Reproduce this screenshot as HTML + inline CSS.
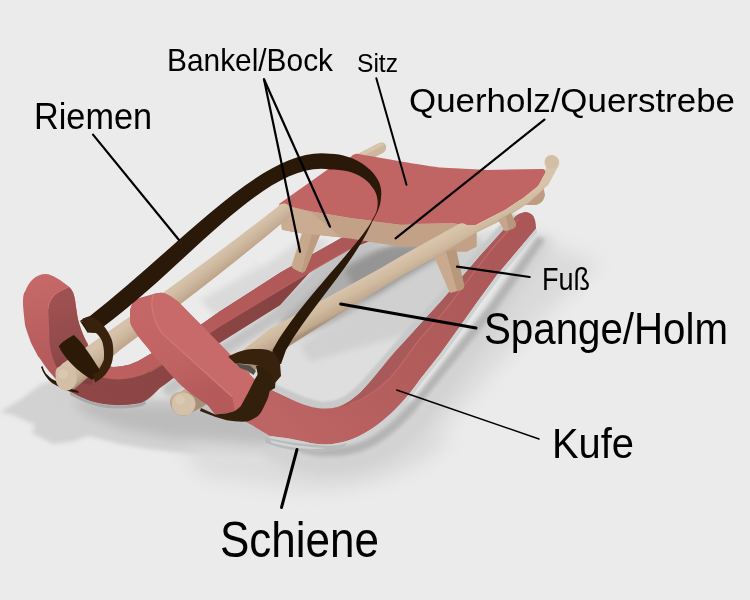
<!DOCTYPE html>
<html><head><meta charset="utf-8">
<style>
html,body{margin:0;padding:0;width:750px;height:600px;overflow:hidden;background:#ebebeb}
svg{display:block}
text{font-family:"Liberation Sans",sans-serif;fill:#000}
</style></head><body>
<svg width="750" height="600" viewBox="0 0 750 600">
<rect width="750" height="600" fill="#ebebeb"/>
<g id="sled"><defs>
<filter id="b1" x="-20%" y="-20%" width="140%" height="140%"><feGaussianBlur stdDeviation="1"/></filter>
<filter id="b2" x="-20%" y="-20%" width="140%" height="140%"><feGaussianBlur stdDeviation="2"/></filter>
<filter id="b3" x="-30%" y="-30%" width="160%" height="160%"><feGaussianBlur stdDeviation="3"/></filter>
<filter id="b6" x="-30%" y="-30%" width="160%" height="160%"><feGaussianBlur stdDeviation="6"/></filter>
<filter id="b10" x="-40%" y="-40%" width="180%" height="180%"><feGaussianBlur stdDeviation="10"/></filter>
<linearGradient id="gRodL" gradientUnits="userSpaceOnUse" x1="223" y1="250" x2="234.5" y2="265">
<stop offset="0" stop-color="#d6c2aa"/><stop offset="0.4" stop-color="#cdb89f"/><stop offset="0.85" stop-color="#bea68c"/><stop offset="1" stop-color="#a89078"/></linearGradient>
<linearGradient id="gRodR" gradientUnits="userSpaceOnUse" x1="330" y1="296" x2="340" y2="315">
<stop offset="0" stop-color="#d8c4ab"/><stop offset="0.4" stop-color="#d0baa0"/><stop offset="0.85" stop-color="#c0a88e"/><stop offset="1" stop-color="#a89078"/></linearGradient>
<linearGradient id="gRunR" gradientUnits="userSpaceOnUse" x1="530" y1="220" x2="300" y2="440">
<stop offset="0" stop-color="#ab5757"/><stop offset="0.6" stop-color="#b25c5c"/><stop offset="1" stop-color="#bd6464"/></linearGradient>
<linearGradient id="gCurlL" gradientUnits="userSpaceOnUse" x1="40" y1="280" x2="60" y2="380">
<stop offset="0" stop-color="#c66868"/><stop offset="1" stop-color="#b05858"/></linearGradient>
<linearGradient id="gCurlLR" gradientUnits="userSpaceOnUse" x1="60" y1="290" x2="80" y2="385">
<stop offset="0" stop-color="#a05252"/><stop offset="0.6" stop-color="#924a4a"/><stop offset="1" stop-color="#804040"/></linearGradient>
<linearGradient id="gRunLside" gradientUnits="userSpaceOnUse" x1="100" y1="400" x2="400" y2="220">
<stop offset="0" stop-color="#8e4646"/><stop offset="0.4" stop-color="#8a4444"/><stop offset="1" stop-color="#804040"/></linearGradient>
<linearGradient id="gRunLtop" gradientUnits="userSpaceOnUse" x1="100" y1="370" x2="400" y2="210">
<stop offset="0" stop-color="#be6060"/><stop offset="0.4" stop-color="#b45a5a"/><stop offset="1" stop-color="#aa5757"/></linearGradient>
<linearGradient id="gCurlRfront" gradientUnits="userSpaceOnUse" x1="140" y1="300" x2="200" y2="400">
<stop offset="0" stop-color="#c66767"/><stop offset="0.6" stop-color="#c06363"/><stop offset="1" stop-color="#b45a5a"/></linearGradient>
</defs>
<g id="shadows">
<!-- shadow under front curls -->
<path d="M0,412 L20,400 L40,385 L60,378 L100,390 L200,395 L300,400 L410,400 L430,420 C400,440 360,456 310,457 L250,457.5 L200,455 L149,449 L120,444 L88,436 L75,441 L53,444 L32,433 L35,425 L13,415 Z" fill="#d2d2d2" filter="url(#b2)"/>
<path d="M70,398 L120,405 L200,404 L270,425 L320,445 L260,447 L180,440 L120,428 L85,414 Z" fill="#bcbcbc" filter="url(#b6)"/>
<!-- ground inside runners (light) -->
<path d="M150,398 L250,330 L320,272 L420,246 L522,222 L470,300 L420,360 L385,395 L335,412 L290,402 L230,400 Z" fill="#dedede" filter="url(#b2)"/>
<path d="M205,308 L256,258 L268,272 L228,306 Z" fill="#e8e8e8" filter="url(#b1)" opacity="0.8"/>
<!-- under seat / above right rod: darker -->
<path d="M280,305 L320,270 L410,238 L480,245 L505,256 L440,282 L330,325 L280,345 Z" fill="#adadad" filter="url(#b3)"/>
<path d="M335,250 L420,245 L470,255 L430,285 L360,300 Z" fill="#959595" filter="url(#b3)"/>
<!-- between left runner and left rod, upper area -->
<path d="M200,300 L270,262 L300,240 L330,240 L300,275 L220,320 Z" fill="#dadada" filter="url(#b3)"/>
<!-- shadow below right rod -->
<path d="M300,345 L400,280 L475,236 L505,258 L450,300 L415,332 L350,350 L310,362 Z" fill="#d0d0d0" filter="url(#b3)"/>
<!-- shadow below left runner -->
<path d="M160,388 L220,342.7 L280,305.3 L320,261 L400,222 L410,232 L330,275 L285,318 L225,356 L170,398 Z" fill="#c2c2c2" filter="url(#b3)"/>
<!-- band along inside of right runner -->
<path d="M290,396 C305,402 322,406 338,404 L352,396 L372,378 L389,357 L440,300 L514,214 L522,220 L450,304 L398,364 C385,380 370,398 350,408 C335,415 315,414 290,406 Z" fill="#c4c4c4" filter="url(#b2)"/>
<!-- shadow beyond right runner -->
<path d="M180,445 L300,452 C350,452 390,440 420,420 L450,440 C420,470 360,490 300,490 L200,475 Z" fill="#dcdcdc" filter="url(#b10)"/>
<path d="M300,450 C340,455 380,440 410,415 L480,320 L540,236 L560,250 L600,262 L520,340 L450,420 C410,465 360,485 310,478 Z" fill="#dadada" filter="url(#b10)"/>
<path d="M270,442 C290,452 315,456 334,455 C365,452 390,438 410,420 L490,310 L540,234 L552,242 L505,318 L425,428 C398,460 365,474 334,474 C300,474 280,466 262,455 Z" fill="#d2d2d2" filter="url(#b6)"/>
<path d="M300,446 C320,450 345,448 365,440 C385,430 400,415 415,398 L488,306 L538,236 L545,240 L495,312 L420,405 C400,430 380,445 360,452 C340,458 315,458 300,452 Z" fill="#b4b4b4" filter="url(#b2)"/>
</g>
<g id="leftrunner">
<path d="M87,342.3 C92,356 102,366 113,367 C125,367 135,363 140,360 L199,326 L220,311.3 L280,272.7 L320,250 L400,205 L410,225 L320,261 L280,305.3 L220,342.7 C200,356 175,378 160,388 C150,398 145,402 140,403.3 C130,405 120,405.5 113.3,405 C105,404.5 98,403 91.7,401.7 C85,399 76,395 70,391.7 L60,382 Z" fill="url(#gRunLside)"/>
<path d="M87,342.3 C92,356 102,366 113,367 C125,367 135,363 140,360 L199,326 L220,311.3 L280,272.7 L320,250 L400,205 L404,218 L320,266 L280,290 L220,326 L199,340 C180,352 160,366 145,374 C130,380 115,381 100,377 Z" fill="url(#gRunLtop)"/>
<path d="M150,372 C170,360 185,350 199,340 L220,326 L280,290 L320,266 L404,218" fill="none" stroke="#ba6060" stroke-width="1.2" opacity="0.8"/>
<path d="M70,392 C85,400 100,405 113,405.5 C125,406 138,405 145,401 L146,404 C140,408 125,409 113,408.5 C98,408 85,403 70,395 Z" fill="#a8a8a8"/>
</g>
<g id="leftcurl">
<path d="M45.7,274 C52,274 62,281 68.3,286.3 C72,289 74.5,293 75.7,305 L77.7,318.3 C79,326 82,334 87,342.3 L92,358 L70,391.7 C60,385 52,375 46.7,368.3 C42,362 40,358 38.3,356.7 C34,348 31,344 30,340 C27,332 25,325 25,325 C24,315 23,308 23,302.3 C23,296 24,292 25,291.7 C27,286 30,282 32.3,279.7 C36,276 41,274 45.7,274 Z" fill="url(#gCurlL)"/>
<path d="M68.3,287 C62,290 56,292 53.7,295.7 C50,300 48,305 48.3,309 L49.7,345 C52,360 58,372 66,380 L92,385 L92,358 C88,345 82,334 77.7,318.3 L75.7,305 C74.5,293 72,289 68.3,287 Z" fill="url(#gCurlLR)"/>
<path d="M68.3,287 C62,290 56,292 53.7,295.7 C50,300 48,305 48.3,309" fill="none" stroke="#cf7676" stroke-width="1.2" opacity="0.8"/>
</g>
<g id="leftrodback">
<path d="M352,157 L378,143.5 C383,141 387,144 386,149 C385,152 383,153 381,154 L358,166 Z" fill="#cdb89f"/>
<path d="M352,157 L378,143.5 C381,142.5 383,143 384,145 L355,160 Z" fill="#d8c5ae"/>
</g>
<g id="seat">
<!-- back-left leg -->
<path d="M302,233 L320,235 L306,269 C305,272 303,273 300,272 L294,269 C292,268 291,266 292,264 Z" fill="#c8a88c"/>
<path d="M312,234 L320,235 L306,269 C305,272 303,273 301,272 Z" fill="#bd9d81"/>
<!-- back-right leg -->
<!-- back block -->
<path d="M519,196 L541,176 L545,195 C544,201 540,204 536,205 L527,205 C522,204 519,201 519,196 Z" fill="#bd9c82"/>
<!-- seat wooden frame -->
<path d="M279,204 L282,229.7 L299,233 L350,238.5 L400,246.7 L421.7,246.7 L445,251.7 L466.7,251.7 L476.7,246.7 L476.7,230 L466.7,225.8 L453.3,223.3 L400,224.2 L350,218 L310,211.3 Z" fill="#c2a186"/>
<path d="M279,204 L282,229.7 L299,233 L340,237 C330,228 320,220 310,211.3 Z" fill="#c9ac92"/>
<!-- red seat top -->
<path d="M279,204 L327,170 L351,156.7 C353,154 356,153.5 357,153.7 L400,161.3 C420,165 440,167.6 440,167.6 L488,170 L542.4,168.9 C545,169 546,171 545.6,172.4 L538,186 L523,198 L505,210 L475.2,225.2 L466.7,225.8 L453.3,223.3 L400,224.2 L350,218 L310,211.3 Z" fill="#c06464"/>
</g>
<g id="leftrodfront">
<path d="M56,370 C58,366 60,367 62,364 C120,324 210,260 280,205 C284,202 289,204 291,209 C292,213 290,216 288,218 C250,251 185,301 120,350 L72,391 C64,394 53,382 56,370 Z" fill="url(#gRodL)"/>
</g>
<g id="rightrod">
<path d="M170,400 C172,394 176,392 180,392 L230,360 L270,328.7 L330,296 L380,268.5 L400,256.7 L458.3,224.2 C462,222 466,224 466.7,225 L475.2,225.2 L505,210 L523,198 L538,186 L545.6,172.4 L546,159 C550,153 561,155 559,165 L548.5,184.5 L528.5,203 L503.5,219.5 L478,232 L475,233.3 L433.3,258.3 L400,276.7 L330,320 L287.3,347.3 L202.7,406.7 L186.7,415.3 C178,418 170,410 170,400 Z" fill="url(#gRodR)"/>
<circle cx="551.5" cy="162" r="7" fill="#d2bea5"/>
<ellipse cx="183.5" cy="404" rx="12" ry="11.5" fill="#d4c1a9"/>
<ellipse cx="180" cy="400" rx="5" ry="5" fill="#ddcdb8" opacity="0.6"/>
</g>
<path d="M262,385 L270,389.3 L287.5,397.5 C353.2,431.2 364.1,381.3 406,340 L442.4,300 L480,256 L516,216 L510,214 L474,254 L436,298 L400,337 L383,357 L374,367 L364,379 L354,389 L345,396 L336,400 L322,402 L306,398 L290,391 L272,383 Z" fill="#c8c9c9" filter="url(#b1)"/>
<g id="rightrunner">
<!-- full outer face: curl + runner -->
<path d="M130,314 C130,305 134,300 140,298 L150,295 C155,293.5 158,292.7 161.3,292.7 C166,293 171,296 178,301.6 L254.7,379.5 L262,385 L270,389.3 L287.5,397.5 C353.2,431.2 364.1,381.3 406,340 L442.4,300 L480,256 L516,216 C520,213 524,212 526.7,212 C530,213 532,214 533.3,216 C535,219 536,223 536,228.7 L497,275 L478.7,300 L457.4,330 L440.5,353.6 L420,379.6 C391.4,420.3 350.5,454.8 305,441.8 L287.5,438.3 L270,436 L251.7,425 L229.7,413 C220,410 212,407 207.3,404.7 C198,399 190,393 182,386 C176,380 170,374 164.7,367.3 C158,360 152,354 147.3,347.3 C142,341 137,335 134,330 C132,327 130.5,324 130.2,322 C130,319 130,316 130,314 Z" fill="url(#gRunR)"/>
<!-- inner darker strip -->
<path d="M340,406.8 L350,401 L360,393 L370,382 L380,370 L389,360 L406,340 L442.4,300 L480,256 L516,216 C520,213 524,212 526.7,212 C524,214 521,216 518.7,218.7 L491,250 L445,310.7 L419,340 L400,366 L390,378 L380,387 L370,394 L360,400 L350,404 Z" fill="#a85a5a"/>
<path d="M518.7,218.7 L491,250 L445,310.7 L419,340 L400,366 L390,378 L380,387 L370,394 L360,400 L350,404" fill="none" stroke="#c26767" stroke-width="1.3"/>
<!-- curl top face -->
<path d="M153,295 C155,293.5 158,292.7 161.3,292.7 C166,293 171,296 178,301.6 L254.7,379.5 L247.7,393.5 L240.7,406.3 L234.8,411 L232,396.7 L162.2,333.4 C159,329 156,324 154.7,319.4 C151.5,310 151.5,301 153,295 Z" fill="#c86a6a"/>
<!-- curl front face darker -->
<path d="M130,314 C130,305 134,300 140,298 L153,295 C151.5,301 151.5,310 154.7,319.4 C156,324 159,329 162.2,333.4 L232,396.7 L234.8,411 L226.7,413.3 L215,414.5 L207.3,404.7 C198,399 190,393 182,386 C176,380 170,374 164.7,367.3 C158,360 152,354 147.3,347.3 C142,341 137,335 134,330 C132,327 130.5,324 130.2,322 C130,319 130,316 130,314 Z" fill="url(#gCurlRfront)"/>
<path d="M153,295 C151.5,301 151.5,310 154.7,319.4 C156,324 159,329 162.2,333.4 L232,396.7" fill="none" stroke="#d07878" stroke-width="1.3"/>
<!-- silver strip -->
<path d="M270,436 L287.5,438.3 L305,441.8 C350.5,454.8 391.4,420.3 420,379.6 L440.5,353.6 L457.4,330 L478.7,300 L497,275 L536,228.7 L537.5,232 L499,279 L481,303 L460,333 L443,356.5 L422.5,382 C393,424 352,458 305,445.5 L287.5,442 L268,440 Z" fill="#cfd2d2"/>
<path d="M264,437 C280,441 300,444 322,445.5 C332,446 340,445 348,443 C342,449 332,452 318,452.5 C300,452 282,449 266,443 Z" fill="#b9bbbb"/>
<path d="M270,440 C285,444 305,447 325,448 C315,450 295,449 272,443 Z" fill="#d2d4d4"/>
</g>
<path d="M498,220 L511,213 L516,224 C516,227 514,228 512,229 L506,231 C504,231 503,230 503,228 Z" fill="#c5a68a"/>
<path d="M506,216.5 L511,213 L516,224 C516,227 514,228 512,229 L509,230 Z" fill="#b8987c"/>
<!-- front right leg -->
<path d="M433.6,255.6 L456,249.2 L464,285 C464.5,288 463,289 461,290 L452,292.5 C450,293 449,292.4 449,291 Z" fill="#c9aa8e"/>
<path d="M446,251.5 L456,249.2 L464,285 C464.5,288 463,289 461,290 L457,291 Z" fill="#b8987c"/>
<g id="strap" fill="#2a1808">
<path d="M80,321 C84,318 87,317 90,316 C180.8,245.5 264.2,144.9 330,153.75 C336,153.75 342,155 347.5,156.7 C362,161 374,171 379,182 C381,187 381.5,191 381.2,195 C381,199 380.6,202 380,204.3 C379,208 378,211 376.5,213.7 C374,218 372,222 370.7,225.3 C350.8,267.1 310.1,307.8 286,350 L281,364 L271,363 L272.7,350 C296,305.2 363.5,241.4 373,218.3 C375,215 376.7,212 377.1,209 C377.6,206 377.7,204 377.7,202 C377.5,199 377,197 376.5,195 C375,191 374,189 372,187 C369,182 366,180 362.7,177.7 C358,175 352,172 347.5,171.3 C342,170 336,169.5 330,169.5 C266.7,159.7 191,261.6 103,327 Z"/>
</g>
<path d="M256,366 L268,364 L276,375 L275,388 L268,392 L258,376 Z" fill="#33200c"/>
<path d="M236,363.5 L250,365.5 L256,371 L253.5,375 L248,371 L240,368 Z" fill="#55504a"/>
<g id="loops">
<path d="M80,321 L103,327 L95,333 L87.5,332.5 Z" fill="#2a1808"/>
<path d="M42.5,366 C44,371 46,374 47.5,375 C50,378 53,380 56,381 C62,385 68,388 78,391 L79,393 C70,392 60,388 52,383 C47,379 43,373 41,367 Z" fill="#2a1808"/>
<ellipse cx="66.25" cy="378.5" rx="10.5" ry="12" fill="#d3bfa6"/>
<ellipse cx="63" cy="374" rx="5" ry="5" fill="#ddcdb8" opacity="0.6"/>
<path d="M73.75,335 C68,338 62,342 58.75,346.25 C64,358 78,372 92.5,380 C96,376 99,373 100,370 C92,358 84,344 73.75,335 Z" fill="#2c1a07"/>
<path d="M82.5,318.75 C86,317.5 89,317 92.5,317.5 C98,319 102,323 105,327.5 C109,333 111.5,338 112.5,342.5 C113.5,348 113.5,354 112.5,360 C111,367 108,371 105,375 C102,378 98,381 95,382.5 L93,374 C95,373 96.5,372.5 97.5,372.5 C100,368 102,364 103.75,360 C104.5,354 104,348 102.5,342.5 C101,338 98,334 95,332.5 C92,331 89,332 87.5,332.5 Z" fill="#38220d"/>
<path d="M228.3,356.7 C236,352 244,350 250,349.2 C258,349 265,349 270,350.8 C275,353 278,357 280,363.3 L281,376 L273.3,385 C273,380 272,378 271.7,375 C266,370 262,366 255,365 C248,364 240,364 235,363.3 Z" fill="#38220d"/>
<path d="M261.7,367.8 C266,374 269,380 269.8,386.5 C270,393 268,399 265.2,404 C263,409 261,413 258.2,415.7 C254,419 250,421 246.5,421.5 C240,422 233,421 226.7,420.3 L215,416.8 L200,411 L201,408 L215,414.5 L226.7,413.3 C230,412.5 232,412 234.8,411 C237,409.5 239,408 240.7,406.3 L247.7,393.5 L254.7,379.5 Z" fill="#33200c"/>
</g>
</g>
<g id="lines" stroke="#000" stroke-linecap="round" fill="none">
<line x1="93" y1="134.6" x2="179" y2="240" stroke-width="2.2"/>
<line x1="264" y1="79.3" x2="300" y2="251.7" stroke-width="2.2"/>
<line x1="264" y1="79.3" x2="330" y2="226.7" stroke-width="2.2"/>
<line x1="376.3" y1="78.2" x2="406.5" y2="184.8" stroke-width="2"/>
<line x1="544.4" y1="119.6" x2="395.6" y2="238.4" stroke-width="2.2"/>
<line x1="529.6" y1="277" x2="457" y2="266.7" stroke-width="2.2"/>
<line x1="476" y1="328" x2="340.7" y2="304" stroke-width="3"/>
<line x1="539" y1="439" x2="396.7" y2="390" stroke-width="1.5"/>
<line x1="297" y1="449.5" x2="281.5" y2="507.5" stroke-width="3"/>
</g>
<g id="labels" opacity="0.999">
<text x="167" y="71" font-size="32" textLength="166" lengthAdjust="spacingAndGlyphs">Bankel/Bock</text>
<text x="357" y="72" font-size="26" textLength="41" lengthAdjust="spacingAndGlyphs">Sitz</text>
<text x="34" y="129" font-size="36" textLength="118" lengthAdjust="spacingAndGlyphs">Riemen</text>
<text x="409" y="111.5" font-size="34" textLength="326" lengthAdjust="spacingAndGlyphs">Querholz/Querstrebe</text>
<text x="542" y="290" font-size="32" textLength="48" lengthAdjust="spacingAndGlyphs">Fuß</text>
<text x="484" y="344" font-size="43.6" textLength="244" lengthAdjust="spacingAndGlyphs">Spange/Holm</text>
<text x="552" y="458" font-size="42" textLength="82" lengthAdjust="spacingAndGlyphs">Kufe</text>
<text x="220" y="556.6" font-size="50" textLength="159" lengthAdjust="spacingAndGlyphs">Schiene</text>
</g>
</svg>
</body></html>
